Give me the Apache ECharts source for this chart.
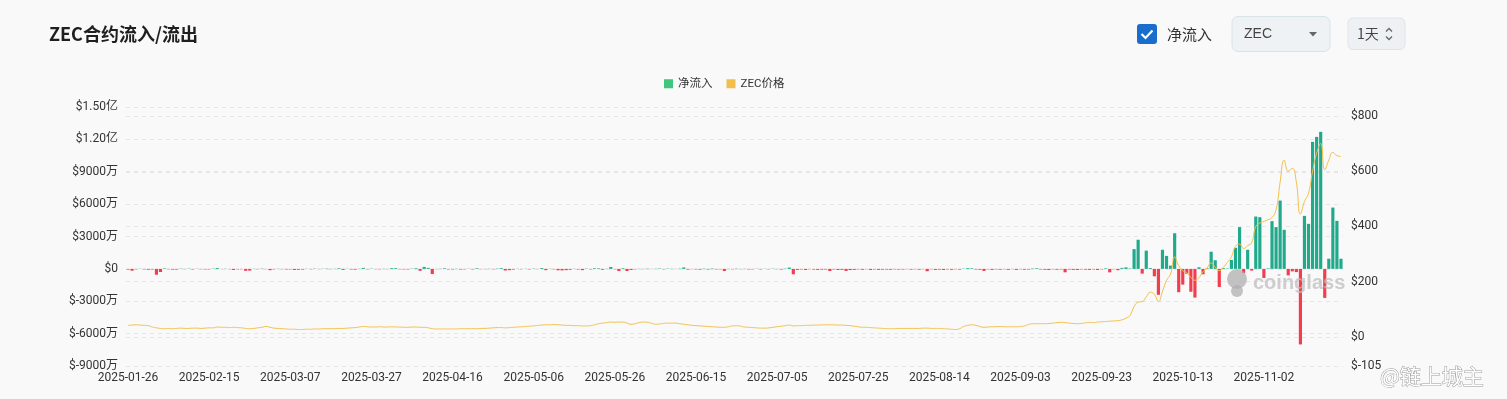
<!DOCTYPE html>
<html>
<head>
<meta charset="utf-8">
<script src="https://cdn.jsdelivr.net/npm/echarts@6/dist/echarts.min.js"></script>
<style>
  html, body { margin: 0; padding: 0; background: #f9f9f9; }
  #chart { width: 1507px; height: 399px; }
</style>
</head>
<body>
<div id="chart"></div>
<script>
// daily categories, 2025-01-26 .. 2025-11-21
const startDate = '2025-01-26'
const dayCount = 300

// net inflow, USD millions, one per day
const netFlow = [
  -0.6, -1.7, -0.3, 0.2, -0.4, -0.8, -0.5, -5.4, -2.9, 0.5, -0.3, -0.7, -0.6, 0.3, -0.2, 0.3, -0.4, 0.2, -0.3, -0.5,
  -0.4, 0.3, 0.8, -0.2, 0.2, -0.3, -1.0, -0.4, -0.3, -1.8, -1.6, 0.2, -0.3, 0.3, -0.2, -1.2, -0.4, 0.2, -0.3, -0.5,
  -0.4, -1.0, -0.8, -0.6, 0.2, -0.3, 0.3, -0.2, 0.2, 0.3, -0.3, 0.2, 0.6, -0.9, 0.2, -0.5, -0.7, 0.2, 0.9, -0.3,
  0.3, -0.2, -0.4, 0.2, -0.3, 0.7, 0.7, -0.3, -0.5, -0.4, 0.3, 0.6, -1.8, 1.8, 0.9, -4.8, -0.3, 0.2, 0.6, -0.4,
  -0.5, 0.2, -0.6, -0.3, 0.2, -0.4, 0.6, -0.2, -0.3, 0.2, -0.4, 0.3, 0.7, -1.5, -1.2, -0.6, 0.2, -0.3, 0.2, -0.4,
  0.3, -0.2, 0.8, -1.2, 0.2, -0.4, -1.3, -1.4, -1.2, -0.8, 0.2, -0.5, -1.2, 0.3, -0.4, 0.6, 0.5, -0.8, 0.2, 1.7,
  -0.3, -2.0, 0.6, -2.0, -1.0, -0.4, 0.2, -0.3, 0.3, -0.2, 0.2, 0.4, -0.3, 0.3, 0.2, -0.2, 0.3, 1.3, -0.6, -0.3,
  -0.4, -0.7, 0.3, -0.6, 0.4, -0.5, -0.3, -2.0, 0.2, -0.4, 0.3, -0.3, 0.2, -0.5, -0.3, 0.2, -0.4, 0.2, -0.3, 0.3,
  -0.2, -0.6, 0.3, 1.2, -5.0, -0.9, -0.5, -1.0, -0.3, -0.6, -0.9, -0.7, -0.6, -2.0, -0.5, -1.0, -0.9, -1.9, -1.1, -0.9,
  -0.4, -0.8, -0.3, -1.0, -0.5, -0.9, -0.7, -0.6, -0.8, -0.4, -0.6, -0.5, -0.3, -0.6, -0.4, -0.7, -0.3, -2.2, -0.4, -0.9,
  -0.7, -1.0, -0.5, -0.8, -0.4, -0.6, 0.3, 0.7, 0.6, -0.5, -0.8, -1.9, -0.4, -0.9, -0.5, -0.7, -0.4, -0.8, -0.3, -0.9,
  -0.4, -0.7, -0.6, 0.4, 0.6, -0.5, -0.8, -1.0, -0.4, -0.7, -0.5, -3.2, -0.6, -0.9, -1.0, -0.4, -0.7, -0.9, -0.5, -1.0,
  -0.4, 0.5, -3.2, -0.3, -1.2, 0.9, 1.4, 0.4, 18.3, 27.0, -4.4, 16.9, 0.8, -6.9, -24.0, 17.7, 12.0, 3.0, 33.0, -21.6,
  -14.6, -4.6, -21.2, -26.6, 1.5, -5.0, 0.6, 15.9, 8.0, -16.8, 0.7, 0.4, 8.3, 19.5, 38.7, -4.0, 17.7, -1.6, 48.5, 47.9,
  -8.4, 0.5, 44.2, 38.7, 63.3, 36.2, -6.0, -2.3, -3.0, -70.0, 49.1, 41.7, 117.7, 122.3, 127.0, -26.9, 9.4, 56.8, 44.5, 9.4
]

// ZEC price, USD, one per day
const zecPrice = [
  42, 43, 44, 43, 42, 41, 36, 33, 31, 30, 31, 30, 31, 32, 31, 31, 32, 32, 31, 32,
  33, 33, 36, 35, 35, 34, 35, 34, 33, 31, 30, 31, 33, 35, 38, 35, 32, 31, 30, 29,
  28, 28, 27, 27, 28, 28, 29, 29, 30, 30, 30, 30, 31, 31, 32, 33, 34, 36, 38, 37,
  36, 36, 37, 36, 36, 37, 36, 36, 35, 35, 36, 36, 35, 35, 33, 30, 29, 29, 29, 29,
  29, 29, 30, 30, 30, 30, 30, 31, 31, 32, 33, 34, 34, 33, 34, 35, 36, 37, 38, 39,
  40, 42, 43, 44, 44, 45, 44, 43, 42, 42, 41, 41, 40, 40, 41, 44, 48, 50, 52, 54,
  53, 54, 54, 50, 46, 48, 52, 54, 53, 50, 46, 47, 49, 50, 50, 50, 48, 46, 44, 42,
  41, 40, 39, 38, 37, 36, 35, 35, 37, 40, 41, 39, 36, 35, 34, 33, 32, 32, 33, 35,
  37, 39, 41, 43, 40, 41, 41, 42, 42, 43, 43, 44, 44, 44, 44, 43, 43, 42, 41, 39,
  37, 35, 35, 34, 33, 32, 31, 30, 30, 30, 31, 31, 31, 31, 31, 31, 32, 32, 31, 31,
  31, 30, 29, 28, 27, 30, 38, 42, 44, 42, 38, 35, 36, 37, 37, 38, 37, 37, 37, 37,
  38, 40, 45, 48, 48, 48, 48, 49, 50, 52, 53, 52, 50, 49, 48, 49, 51, 53, 52, 54,
  55, 56, 57, 58, 59, 62, 68, 78, 110, 126, 128, 145, 162, 155, 128, 165, 205, 228, 290, 258,
  240, 232, 215, 205, 215, 236, 250, 268, 252, 240, 252, 270, 290, 328, 336, 320, 330, 342, 400, 412,
  418, 424, 432, 460, 560, 640, 600, 610, 560, 445, 490, 520, 600, 665, 700, 605, 640, 668, 656, 653
]

// right axis ticks as shown
const priceTicks = [-105, 0, 200, 400, 600, 800]

const legendNames = ['净流入', 'ZEC价格']
const flowUp = '#20a98b'
const flowDown = '#f23d4f'
const priceColor = '#f3c04a'

function buildDates() {
  const out = []
  const d = new Date(startDate + 'T00:00:00Z')
  for (let i = 0; i < dayCount; i++) {
    out.push(d.toISOString().slice(0, 10))
    d.setUTCDate(d.getUTCDate() + 1)
  }
  return out
}

function moneyLabel(v) {
  if (v === 0) return '$0'
  if (Math.abs(v) >= 1e8) return '$' + (v / 1e8).toFixed(2) + '亿'
  return '$' + Math.round(v / 1e4) + '万'
}

const dates = buildDates()
const chart = echarts.init(document.getElementById('chart'))

const splitDash = { lineStyle: { type: [4, 4], color: '#e6e6e6' } }

const option = {
  backgroundColor: '#f9f9f9',
  animation: false,
  textStyle: { fontFamily: 'Roboto, "Noto Sans CJK SC", sans-serif' },
  title: {
    text: 'ZEC合约流入/流出',
    left: 44,
    top: 20,
    textStyle: { fontSize: 18, fontWeight: 'bold', color: '#1f1f1f', fontFamily: '"Noto Sans CJK SC", sans-serif' }
  },
  legend: {
    left: 659,
    top: 73,
    itemWidth: 9,
    itemHeight: 9,
    itemGap: 14,
    icon: 'rect',
    textStyle: { fontSize: 11.5, color: '#333' },
    data: [
      { name: legendNames[0], itemStyle: { color: '#3ec67e' } },
      { name: legendNames[1], itemStyle: { color: '#f0bf4c' } }
    ]
  },
  grid: { left: 126, right: 164, top: 107, bottom: 33 },
  xAxis: {
    type: 'category',
    data: dates,
    axisLine: { show: false },
    axisTick: { show: false },
    axisLabel: { interval: 19, color: '#333', fontSize: 12, margin: 6 }
  },
  yAxis: [
    {
      type: 'value',
      min: -9e7,
      max: 1.5e8,
      interval: 3e7,
      axisLine: { show: false },
      axisTick: { show: false },
      axisLabel: { color: '#333', fontSize: 12, formatter: moneyLabel },
      splitLine: splitDash
    },
    {
      type: 'value',
      min: -105,
      max: 832,
      axisLine: { show: false },
      axisTick: { show: false, customValues: priceTicks },
      axisLabel: { color: '#333', fontSize: 12, customValues: priceTicks, formatter: v => '$' + v },
      splitLine: splitDash
    }
  ],
  series: [
    {
      name: legendNames[0],
      type: 'bar',
      yAxisIndex: 0,
      barWidth: '78%',
      data: netFlow.map(v => v * 1e6),
      itemStyle: {
        color: p => (p.value >= 0 ? flowUp : flowDown)
      }
    },
    {
      name: legendNames[1],
      type: 'line',
      yAxisIndex: 1,
      data: zecPrice,
      smooth: true,
      showSymbol: false,
      lineStyle: { width: 1, color: priceColor },
      itemStyle: { color: priceColor },
      z: 5
    }
  ],
  graphic: [
    // top right controls
    { type: 'rect', shape: { x: 1137, y: 24, width: 20, height: 20, r: 3 }, style: { fill: '#1a6dcc' } },
    { type: 'polyline', shape: { points: [[1141.5, 34], [1145.5, 38], [1152.5, 30.5]] }, style: { stroke: '#fff', lineWidth: 2.2, fill: null } },
    { type: 'text', x: 1167, y: 34, style: { text: '净流入', fontSize: 15, fill: '#333', verticalAlign: 'middle', fontFamily: '"Noto Sans CJK SC", sans-serif' } },
    { type: 'rect', shape: { x: 1232, y: 16.5, width: 98, height: 35, r: 6 }, style: { fill: '#eef2f4', stroke: '#d8e4e8', lineWidth: 1 } },
    { type: 'text', x: 1244, y: 34, style: { text: 'ZEC', fontSize: 14, fill: '#444', verticalAlign: 'middle' } },
    { type: 'polygon', shape: { points: [[1309, 32], [1317, 32], [1313, 36.5]] }, style: { fill: '#666' } },
    { type: 'rect', shape: { x: 1348, y: 18, width: 57, height: 31.5, r: 5 }, style: { fill: '#eef1f4', stroke: '#e0e4e7', lineWidth: 1 } },
    { type: 'text', x: 1357, y: 34, style: { text: '1天', fontSize: 14, fill: '#444', verticalAlign: 'middle', fontFamily: '"Noto Sans CJK SC", sans-serif' } },
    { type: 'polyline', shape: { points: [[1386, 31.5], [1389, 28.5], [1392, 31.5]] }, style: { stroke: '#666', lineWidth: 1.3, fill: null } },
    { type: 'polyline', shape: { points: [[1386, 36.5], [1389, 39.5], [1392, 36.5]] }, style: { stroke: '#666', lineWidth: 1.3, fill: null } },
    // coinglass watermark
    { type: 'circle', shape: { cx: 1237, cy: 279, r: 10 }, style: { fill: 'rgba(175,175,175,0.75)' }, z: 10 },
    { type: 'circle', shape: { cx: 1237, cy: 291, r: 6 }, style: { fill: 'rgba(175,175,175,0.75)' }, z: 10 },
    { type: 'text', x: 1253, y: 283, z: 10, style: { text: 'coinglass', fontSize: 20, fontWeight: 'bold', fill: 'rgba(190,190,190,0.75)', verticalAlign: 'middle' } },
    // weibo mark
    { type: 'text', x: 1380, y: 376, z: 10, style: { text: '@链上城主', fontSize: 21, fill: '#ffffff', stroke: '#9a9a9a', lineWidth: 1, verticalAlign: 'middle', fontFamily: '"Noto Sans CJK SC", sans-serif' } }
  ]
}

chart.setOption(option)
</script>
</body>
</html>
